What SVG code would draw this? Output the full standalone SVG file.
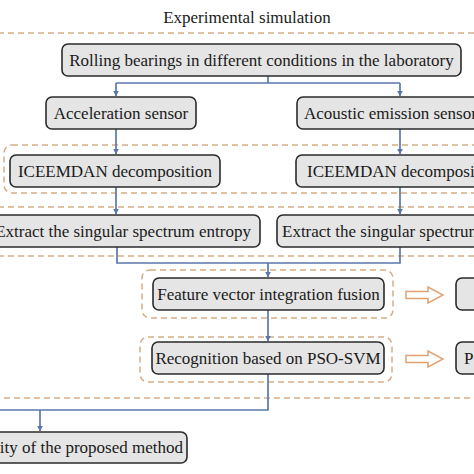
<svg xmlns="http://www.w3.org/2000/svg" width="474" height="474" viewBox="0 0 474 474">
<style>
.box{fill:#e5e5e5;stroke:#2b2b2b;stroke-width:1.6}
.grp{fill:none;stroke:#d5ae86;stroke-width:1.5;stroke-dasharray:6 4}
.t{font-family:"Liberation Serif","Times New Roman",serif;font-size:17px;fill:#1a1a1a}
.c{fill:none;stroke:#5b78ab;stroke-width:1.7}
.ha{fill:#ffffff;stroke:#e0a274;stroke-width:1.5}
</style>
<defs>
<marker id="ah" viewBox="0 0 10 10" refX="9" refY="5" markerWidth="6" markerHeight="6" markerUnits="userSpaceOnUse" orient="auto">
<path d="M0,0 L10,5 L0,10 z" fill="#5b78ab"/>
</marker>
</defs>
<rect width="474" height="474" fill="#ffffff"/>
<text class="t" x="247" y="23" text-anchor="middle">Experimental simulation</text>
<g id="groups">
<rect class="grp" x="-10" y="33" width="500" height="365" rx="8"/>
<rect class="grp" x="4" y="145" width="490" height="48" rx="8"/>
<rect class="grp" x="-10" y="207" width="500" height="49" rx="8"/>
<rect class="grp" x="142" y="270" width="251" height="48" rx="8"/>
<rect class="grp" x="140" y="337" width="252" height="45" rx="8"/>
</g>
<g id="connectors">
<path class="c" d="M268,76 V83 M116,83 H400"/>
<path class="c" d="M116,83 V96" marker-end="url(#ah)"/>
<path class="c" d="M400,83 V96" marker-end="url(#ah)"/>
<path class="c" d="M116,129 V154" marker-end="url(#ah)"/>
<path class="c" d="M400,129 V154" marker-end="url(#ah)"/>
<path class="c" d="M116,187 V214" marker-end="url(#ah)"/>
<path class="c" d="M400,187 V214" marker-end="url(#ah)"/>
<path class="c" d="M117,247 V263 H400 V247"/>
<path class="c" d="M268,263 V277" marker-end="url(#ah)"/>
<path class="c" d="M268,310 V341" marker-end="url(#ah)"/>
<path class="c" d="M268,374 V410 H-5"/>
<path class="c" d="M40,410 V431" marker-end="url(#ah)"/>
<path class="ha" d="M406,291.5 H428 V287 L443,295 L428,303 V298.5 H406 z"/>
<path class="ha" d="M406,355.5 H428 V351 L443,359 L428,367 V362.5 H406 z"/>
</g>
<g id="n-rolling"><rect class="box" x="62" y="44" width="399" height="32" rx="6"/><text class="t" x="261.5" y="66" text-anchor="middle">Rolling bearings in different conditions in the laboratory</text></g>
<g id="n-acc"><rect class="box" x="46" y="97" width="150" height="32" rx="6"/><text class="t" x="121" y="119" text-anchor="middle">Acceleration sensor</text></g>
<g id="n-ae"><rect class="box" x="297" y="97" width="200" height="32" rx="6"/><text class="t" x="304" y="119">Acoustic emission sensor</text></g>
<g id="n-ice1"><rect class="box" x="10" y="155" width="210" height="32" rx="6"/><text class="t" x="115" y="177" text-anchor="middle">ICEEMDAN decomposition</text></g>
<g id="n-ice2"><rect class="box" x="296" y="155" width="210" height="32" rx="6"/><text class="t" x="307" y="177">ICEEMDAN decomposition</text></g>
<g id="n-ex1"><rect class="box" x="-10" y="215" width="270" height="32" rx="6"/><text class="t" x="251" y="237" text-anchor="end">Extract the singular spectrum entropy</text></g>
<g id="n-ex2"><rect class="box" x="277" y="215" width="270" height="32" rx="6"/><text class="t" x="282" y="237">Extract the singular spectrum entropy</text></g>
<g id="n-fus"><rect class="box" x="153" y="278" width="231" height="32" rx="6"/><text class="t" x="268.5" y="300" text-anchor="middle">Feature vector integration fusion</text></g>
<g id="n-r1"><rect class="box" x="456" y="278" width="60" height="32" rx="6"/></g>
<g id="n-rec"><rect class="box" x="152" y="342" width="232" height="32" rx="6"/><text class="t" x="268" y="364" text-anchor="middle">Recognition based on PSO-SVM</text></g>
<g id="n-r2"><rect class="box" x="456" y="342" width="60" height="32" rx="6"/><text class="t" x="464" y="364">P</text></g>
<g id="n-ver"><rect class="box" x="-10" y="432" width="197" height="31" rx="6"/><text class="t" x="183" y="453" text-anchor="end">ity of the proposed method</text></g>
</svg>
